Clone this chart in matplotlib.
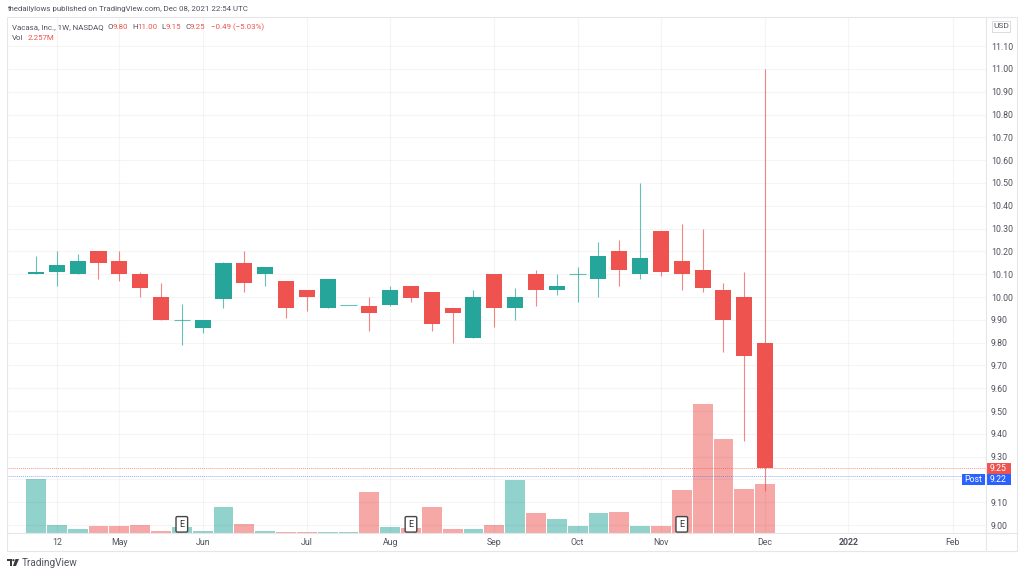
import matplotlib
matplotlib.use('Agg')
import matplotlib.pyplot as plt
from matplotlib.patches import Rectangle, Polygon, Circle

plt.rcParams['font.family'] = ['Roboto', 'DejaVu Sans']

# weekly candles
opens = [10.10, 10.11, 10.10, 10.20, 10.16, 10.10, 10.00, 9.90, 9.865, 9.99, 10.15, 10.10,
         10.07, 10.03, 9.95, 9.966, 9.96, 9.965, 10.05, 10.02, 9.95, 9.82, 10.10, 9.95,
         10.10, 10.03, 10.10, 10.08, 10.20, 10.10, 10.29, 10.16, 10.12, 10.03, 10.00, 9.80]
highs = [10.18, 10.20, 10.19, 10.20, 10.20, 10.11, 10.06, 9.97, 9.90, 10.155, 10.20, 10.13,
         10.07, 10.03, 10.08, 9.966, 10.00, 10.05, 10.05, 10.02, 9.95, 10.03, 10.10, 10.04,
         10.12, 10.10, 10.13, 10.24, 10.25, 10.50, 10.29, 10.32, 10.30, 10.06, 10.11, 11.00]
lows = [10.10, 10.05, 10.10, 10.08, 10.07, 10.00, 9.90, 9.79, 9.84, 9.95, 10.02, 10.05,
        9.91, 9.94, 9.95, 9.966, 9.85, 9.96, 9.98, 9.85, 9.80, 9.82, 9.87, 9.90,
        9.96, 10.01, 9.98, 10.00, 10.05, 10.08, 10.09, 10.03, 10.02, 9.76, 9.37, 9.15]
closes = [10.11, 10.14, 10.16, 10.15, 10.10, 10.04, 9.90, 9.90, 9.90, 10.15, 10.06, 10.13,
          9.95, 10.00, 10.08, 9.966, 9.93, 10.03, 9.995, 9.88, 9.93, 10.00, 9.95, 10.00,
          10.03, 10.05, 10.10, 10.18, 10.12, 10.17, 10.11, 10.10, 10.04, 9.90, 9.74, 9.25]
volumes = [2.50, 0.36, 0.16, 0.31, 0.31, 0.34, 0.08, 0.28, 0.08, 1.21, 0.41, 0.065,
           0.02, 0.02, 0.02, 0.02, 1.88, 0.25, 0.20, 1.21, 0.17, 0.17, 0.36, 2.46,
           0.93, 0.64, 0.30, 0.90, 0.96, 0.30, 0.33, 1.98, 6.00, 4.37, 2.02, 2.257]

price_ticks = [9.0, 9.1, 9.3, 9.4, 9.5, 9.6, 9.7, 9.8, 9.9, 10.0, 10.1, 10.2, 10.3,
               10.4, 10.5, 10.6, 10.7, 10.8, 10.9, 11.0, 11.1]
grid_prices = [9.2]
date_ticks = [1, 4, 8, 13, 17, 22, 26, 30, 35, 39, 44]
date_labels = ['12', 'May', 'Jun', 'Jul', 'Aug', 'Sep', 'Oct', 'Nov', 'Dec', '2022', 'Feb']
earnings = [7, 18, 31]
last_price = 9.25
post_price = 9.217

RED = '#ef5350'
TEAL = '#26a69a'
BLUE = '#2962ff'
TEXT = '#50535e'
FRAME = '#e6e6e8'

W, H = 1024, 574
fig = plt.figure(figsize=(W / 100, H / 100), dpi=100, facecolor='white')


def box(x0, y0, x1, y1):
    return [x0 / W, 1 - y1 / H, (x1 - x0) / W, (y1 - y0) / H]


# price pane, time axis shares it
ax = fig.add_axes(box(6.5, 17, 985.5, 533))
vol = ax.twinx()
ax.set_zorder(vol.get_zorder() + 1)
ax.patch.set_visible(False)
ax.set_xlim(-1.416, 45.58)
ax.set_ylim(8.965, 11.228)
vol.set_ylim(-0.014, 24.05)
vol.set_yticks([])
for a in (ax, vol):
    for s in a.spines.values():
        s.set_visible(False)

ax.yaxis.tick_right()
ax.set_yticks(grid_prices, minor=True)
ax.set_yticks(price_ticks)
ax.set_yticklabels(['%.2f' % p for p in price_ticks])
ax.set_xticks(date_ticks)
ax.set_xticklabels(date_labels)
ax.tick_params(axis='both', which='both', length=0, labelsize=6.3, labelcolor=TEXT)
ax.tick_params(axis='x', pad=3.5)
ax.tick_params(axis='y', pad=4)
for t in ax.get_xticklabels():
    if t.get_text() == '2022':
        t.set_fontweight('bold')
ax.grid(True, axis='x', color='k', alpha=0.04, lw=0.8)
ax.grid(True, axis='y', which='both', color='k', alpha=0.04, lw=0.8)
ax.set_axisbelow(True)

for i in range(len(opens)):
    up = closes[i] >= opens[i]
    c = TEAL if up else RED
    vol.bar(i, volumes[i], width=0.95, color=c, alpha=0.5, linewidth=0)
    ax.vlines(i, lows[i], highs[i], color=c, lw=0.8, alpha=0.7, zorder=3)
    if abs(closes[i] - opens[i]) < 0.001:
        ax.hlines(opens[i], i - 0.39, i + 0.39, color=c, lw=0.8, alpha=0.7, zorder=3)
    else:
        ax.bar(i, abs(closes[i] - opens[i]), bottom=min(opens[i], closes[i]),
               width=0.77, color=c, linewidth=0, zorder=4)

ax.axhline(last_price, color=RED, lw=0.7, ls=(0, (1, 1)), alpha=0.6, zorder=2)
ax.axhline(post_price, color=BLUE, lw=0.7, ls=(0, (1, 1)), alpha=0.5, zorder=2)

for e in earnings:
    ax.text(e, 9.003, 'E', fontsize=6.5, color='#333333', ha='center', va='center', zorder=6,
            bbox=dict(boxstyle='round,pad=0.36,rounding_size=0.15', fc='white', ec='#444444', lw=1))

# everything outside the panes: frame, header, badges, logo
ov = fig.add_axes([0, 0, 1, 1], zorder=10)
ov.set_xlim(0, W)
ov.set_ylim(H, 0)
ov.axis('off')
ov.add_patch(Rectangle((6.5, 17), 1010.5, 534, fc='none', ec=FRAME, lw=0.8))
ov.plot([985.5, 985.5], [17, 551], color=FRAME, lw=0.8)
ov.plot([6.5, 1017], [533, 533], color=FRAME, lw=0.8)


def label(x, y, s, color=TEXT, size=5.65, **kw):
    ov.text(x, y, s, color=color, fontsize=size, va='center', **kw)


label(7, 9.5, 'thedailylows published on TradingView.com, Dec 08, 2021 22:54 UTC')
label(12, 27, 'Vacasa, Inc., 1W, NASDAQ')
for x, s, c in [(107.5, 'O', TEXT), (112.7, '9.80', RED), (132.3, 'H', TEXT), (137.7, '11.00', RED),
                (161.7, 'L', TEXT), (165.7, '9.15', RED), (185.7, 'C', TEXT), (190, '9.25', RED),
                (210.7, '\u22120.49 (\u22125.03%)', RED)]:
    label(x, 27, s, color=c)
label(12, 38, 'Vol')
label(27.3, 38, '2.257M', color=RED)

ov.add_patch(Rectangle((992, 21), 18, 11, fc='white', ec='#dcdcdc', lw=0.7))
ov.text(1001, 26.5, 'USD', fontsize=6, color=TEXT, ha='center', va='center')

ov.add_patch(Rectangle((985.7, 463.3), 25, 10.7, fc=RED, ec='none'))
ov.text(998.2, 468.5, '%.2f' % last_price, fontsize=6.3, color='white', ha='center', va='center')
ov.add_patch(Rectangle((985.7, 474.3), 25, 10.4, fc=BLUE, ec='none'))
ov.text(998.2, 479.6, '%.2f' % post_price, fontsize=6.3, color='white', ha='center', va='center')
ov.add_patch(Rectangle((962, 474.3), 22.5, 10.4, fc=BLUE, ec='none'))
ov.text(973.2, 479.6, 'Post', fontsize=6.3, color='white', ha='center', va='center')

ov.add_patch(Polygon([(7, 559), (12, 559), (12, 566), (10, 566), (10, 561), (7, 561)], fc='#3a3a3a', ec='none'))
ov.add_patch(Circle((13.4, 560.2), 1.1, fc='#3a3a3a', ec='none'))
ov.add_patch(Polygon([(15.5, 559), (19, 559), (16, 566), (13, 566)], fc='#3a3a3a', ec='none'))
label(22, 562.5, 'TradingView', size=7.2)

fig.savefig('out.png', dpi=100, facecolor='white')
